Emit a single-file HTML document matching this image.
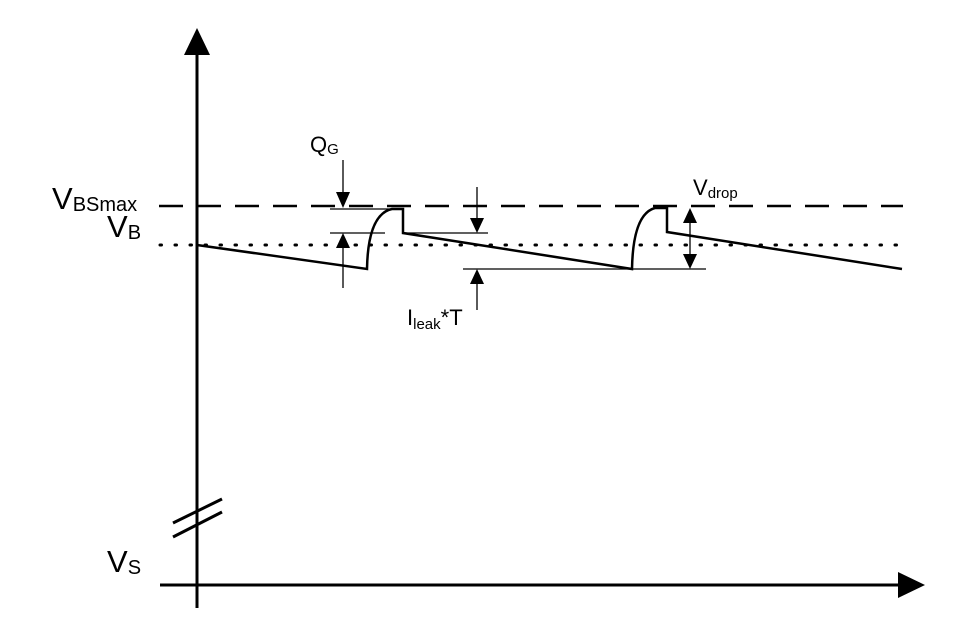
<!DOCTYPE html>
<html><head><style>body{margin:0;background:#fff}svg{display:block}text{font-family:"Liberation Sans",sans-serif;fill:#000}</style></head>
<body>
<svg width="966" height="626" viewBox="0 0 966 626">
<g stroke="#000" fill="none">
<line x1="197" y1="50" x2="197" y2="608" stroke-width="3"/>
<line x1="160" y1="585" x2="905" y2="585" stroke-width="3"/>
<line x1="173" y1="523" x2="222" y2="499" stroke-width="3"/>
<line x1="173" y1="537" x2="222" y2="512" stroke-width="3"/>
<line x1="159" y1="206" x2="903" y2="206" stroke-width="2.5" stroke-dasharray="24,14"/>
<line x1="160" y1="245" x2="903" y2="245" stroke-width="3" stroke-dasharray="1.5,13.5" stroke-linecap="round"/>
<path d="M197 245 L367 269 Q368 214 392 209 L403 209 L403 233 L632 269 Q633 214 655 208 L667 208 L667 232 L902 269" stroke-width="2.5"/>
<g stroke-width="1.3">
<line x1="330" y1="209" x2="393" y2="209"/>
<line x1="330" y1="233" x2="385" y2="233"/>
<line x1="403" y1="233" x2="488" y2="233"/>
<line x1="463" y1="269" x2="706" y2="269"/>
<line x1="343" y1="160" x2="343" y2="195"/>
<line x1="343" y1="245" x2="343" y2="288"/>
<line x1="477" y1="187" x2="477" y2="220"/>
<line x1="477" y1="282" x2="477" y2="310"/>
<line x1="690" y1="218" x2="690" y2="258"/>
</g>
</g>
<g fill="#000">
<polygon points="184,55 210,55 197,28"/>
<polygon points="898,572 898,598 925,585"/>
<polygon points="336,192 350,192 343,208"/>
<polygon points="336,248 350,248 343,233"/>
<polygon points="470,218 484,218 477,233"/>
<polygon points="470,284 484,284 477,269"/>
<polygon points="683,223 697,223 690,208"/>
<polygon points="683,254 697,254 690,269"/>
</g>
<text x="52" y="209" font-size="31">V<tspan font-size="20" dy="2">BSmax</tspan></text>
<text x="107" y="237" font-size="31">V<tspan font-size="20" dy="2">B</tspan></text>
<text x="107" y="572" font-size="31">V<tspan font-size="20" dy="2">S</tspan></text>
<text x="310" y="152" font-size="22">Q<tspan font-size="15" dy="2">G</tspan></text>
<text x="407" y="325" font-size="22">I<tspan font-size="15" dy="4">leak</tspan><tspan dy="-4">*T</tspan></text>
<text x="693" y="195" font-size="22">V<tspan font-size="15" dy="3">drop</tspan></text>
</svg>
</body></html>
